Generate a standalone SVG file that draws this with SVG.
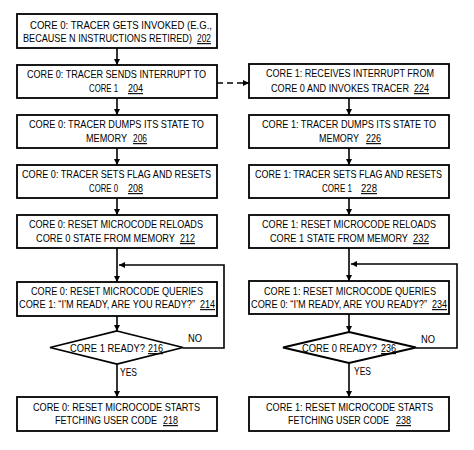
<svg xmlns="http://www.w3.org/2000/svg" width="474" height="450" viewBox="0 0 474 450">
<defs>
<marker id="ah" viewBox="0 0 10 10" refX="10" refY="5" markerWidth="6" markerHeight="6" markerUnits="userSpaceOnUse" orient="auto">
<path d="M0,0 L10,5 L0,10 z" fill="#000"/>
</marker>
<style>
.box{fill:#fff;stroke:#000;stroke-width:1.8}
.dia{fill:#fff;stroke:#000;stroke-width:1.8}
.t{font-family:"Liberation Sans",Arial,sans-serif;font-size:11px;fill:#000}
.u{text-decoration:underline}
.c{fill:none;stroke:#000;stroke-width:1.6}
.d{fill:none;stroke:#000;stroke-width:1.6;stroke-dasharray:6,4}
</style>
</defs>
<rect width="474" height="450" fill="#fff"/>
<g id="connectors">
<line class="c" x1="117" y1="48" x2="117" y2="65" marker-end="url(#ah)"/>
<line class="c" x1="117" y1="98" x2="117" y2="115" marker-end="url(#ah)"/>
<line class="c" x1="117" y1="148" x2="117" y2="165" marker-end="url(#ah)"/>
<line class="c" x1="117" y1="198" x2="117" y2="215" marker-end="url(#ah)"/>
<line class="c" x1="117" y1="248" x2="117" y2="282" marker-end="url(#ah)"/>
<line class="c" x1="117" y1="316" x2="117" y2="331" marker-end="url(#ah)"/>
<line class="c" x1="117" y1="364" x2="117" y2="397" marker-end="url(#ah)"/>
<polyline class="c" points="183,348 224,348 224,265 119,265" marker-end="url(#ah)"/>
<line class="d" x1="217" y1="83" x2="249" y2="83" marker-end="url(#ah)"/>
<line class="c" x1="349" y1="98" x2="349" y2="115" marker-end="url(#ah)"/>
<line class="c" x1="349" y1="148" x2="349" y2="165" marker-end="url(#ah)"/>
<line class="c" x1="349" y1="198" x2="349" y2="215" marker-end="url(#ah)"/>
<line class="c" x1="349" y1="248" x2="349" y2="281" marker-end="url(#ah)"/>
<line class="c" x1="349" y1="314" x2="349" y2="332" marker-end="url(#ah)"/>
<line class="c" x1="349" y1="363" x2="349" y2="397" marker-end="url(#ah)"/>
<polyline class="c" points="416,348 457,348 457,264 351,264" marker-end="url(#ah)"/>
<g transform="scale(0.82,1)">
<text class="t" x="229.27" y="342" textLength="17.07" lengthAdjust="spacingAndGlyphs">NO</text>
<text class="t" x="146.34" y="376" textLength="20.73" lengthAdjust="spacingAndGlyphs">YES</text>
<text class="t" x="513.41" y="343" textLength="17.07" lengthAdjust="spacingAndGlyphs">NO</text>
<text class="t" x="431.71" y="375" textLength="20.73" lengthAdjust="spacingAndGlyphs">YES</text>
</g>
</g>
<g id="n202">
<rect class="box" x="17" y="14" width="200" height="34"/>
<g transform="scale(0.82,1)">
<text class="t" x="36.59" y="29" textLength="221.95" lengthAdjust="spacingAndGlyphs">CORE 0: TRACER GETS INVOKED (E.G.,</text>
<text class="t" x="28.05" y="42" textLength="206.1" lengthAdjust="spacingAndGlyphs">BECAUSE N INSTRUCTIONS RETIRED)</text>
<text class="t u" x="240.24" y="42" textLength="17.07" lengthAdjust="spacingAndGlyphs">202</text>
</g>
</g>
<g id="n204">
<rect class="box" x="17" y="65" width="200" height="33"/>
<g transform="scale(0.82,1)">
<text class="t" x="32.93" y="78" textLength="218.29" lengthAdjust="spacingAndGlyphs">CORE 0: TRACER SENDS INTERRUPT TO</text>
<text class="t" x="108.54" y="92" textLength="35.37" lengthAdjust="spacingAndGlyphs">CORE 1</text>
<text class="t u" x="156.1" y="92" textLength="18.29" lengthAdjust="spacingAndGlyphs">204</text>
</g>
</g>
<g id="n206">
<rect class="box" x="17" y="115" width="200" height="33"/>
<g transform="scale(0.82,1)">
<text class="t" x="35.37" y="128" textLength="213.41" lengthAdjust="spacingAndGlyphs">CORE 0: TRACER DUMPS ITS STATE TO</text>
<text class="t" x="104.88" y="142" textLength="50" lengthAdjust="spacingAndGlyphs">MEMORY</text>
<text class="t u" x="162.2" y="142" textLength="17.07" lengthAdjust="spacingAndGlyphs">206</text>
</g>
</g>
<g id="n208">
<rect class="box" x="17" y="165" width="200" height="33"/>
<g transform="scale(0.82,1)">
<text class="t" x="26.83" y="178" textLength="230.49" lengthAdjust="spacingAndGlyphs">CORE 0: TRACER SETS FLAG AND RESETS</text>
<text class="t" x="108.54" y="192" textLength="35.37" lengthAdjust="spacingAndGlyphs">CORE 0</text>
<text class="t u" x="156.1" y="192" textLength="18.29" lengthAdjust="spacingAndGlyphs">208</text>
</g>
</g>
<g id="n212">
<rect class="box" x="17" y="215" width="200" height="33"/>
<g transform="scale(0.82,1)">
<text class="t" x="35.37" y="228" textLength="212.2" lengthAdjust="spacingAndGlyphs">CORE 0: RESET MICROCODE RELOADS</text>
<text class="t" x="43.9" y="242" textLength="169.51" lengthAdjust="spacingAndGlyphs">CORE 0 STATE FROM MEMORY</text>
<text class="t u" x="219.51" y="242" textLength="18.29" lengthAdjust="spacingAndGlyphs">212</text>
</g>
</g>
<g id="n214">
<rect class="box" x="17" y="282" width="200" height="34"/>
<g transform="scale(0.82,1)">
<text class="t" x="37.8" y="295" textLength="209.76" lengthAdjust="spacingAndGlyphs">CORE 0: RESET MICROCODE QUERIES</text>
<text class="t" x="23.17" y="308" textLength="214.63" lengthAdjust="spacingAndGlyphs">CORE 1: “I’M READY, ARE YOU READY?”</text>
<text class="t u" x="243.9" y="308" textLength="18.29" lengthAdjust="spacingAndGlyphs">214</text>
</g>
</g>
<g id="n216">
<polygon class="dia" points="117,331 183,347.5 117,364 50,347.5"/>
<g transform="scale(0.82,1)">
<text class="t" x="85.37" y="352" textLength="91.46" lengthAdjust="spacingAndGlyphs">CORE 1 READY?</text>
<text class="t u" x="180.49" y="352" textLength="18.29" lengthAdjust="spacingAndGlyphs">216</text>
</g>
</g>
<g id="n218">
<rect class="box" x="17" y="397" width="200" height="34"/>
<g transform="scale(0.82,1)">
<text class="t" x="40.24" y="411" textLength="203.66" lengthAdjust="spacingAndGlyphs">CORE 0: RESET MICROCODE STARTS</text>
<text class="t" x="67.07" y="424" textLength="124.39" lengthAdjust="spacingAndGlyphs">FETCHING USER CODE</text>
<text class="t u" x="198.78" y="424" textLength="18.29" lengthAdjust="spacingAndGlyphs">218</text>
</g>
</g>
<g id="n224">
<rect class="box" x="249" y="64" width="200" height="34"/>
<g transform="scale(0.82,1)">
<text class="t" x="324.39" y="77" textLength="204.88" lengthAdjust="spacingAndGlyphs">CORE 1: RECEIVES INTERRUPT FROM</text>
<text class="t" x="330.49" y="92" textLength="168.29" lengthAdjust="spacingAndGlyphs">CORE 0 AND INVOKES TRACER</text>
<text class="t u" x="504.88" y="92" textLength="18.29" lengthAdjust="spacingAndGlyphs">224</text>
</g>
</g>
<g id="n226">
<rect class="box" x="249" y="115" width="200" height="33"/>
<g transform="scale(0.82,1)">
<text class="t" x="319.51" y="128" textLength="212.2" lengthAdjust="spacingAndGlyphs">CORE 1: TRACER DUMPS ITS STATE TO</text>
<text class="t" x="389.02" y="142" textLength="48.78" lengthAdjust="spacingAndGlyphs">MEMORY</text>
<text class="t u" x="446.34" y="142" textLength="18.29" lengthAdjust="spacingAndGlyphs">226</text>
</g>
</g>
<g id="n228">
<rect class="box" x="249" y="165" width="200" height="33"/>
<g transform="scale(0.82,1)">
<text class="t" x="310.98" y="178" textLength="228.05" lengthAdjust="spacingAndGlyphs">CORE 1: TRACER SETS FLAG AND RESETS</text>
<text class="t" x="392.68" y="192" textLength="36.59" lengthAdjust="spacingAndGlyphs">CORE 1</text>
<text class="t u" x="440.24" y="192" textLength="19.51" lengthAdjust="spacingAndGlyphs">228</text>
</g>
</g>
<g id="n232">
<rect class="box" x="249" y="215" width="200" height="33"/>
<g transform="scale(0.82,1)">
<text class="t" x="319.51" y="228" textLength="212.2" lengthAdjust="spacingAndGlyphs">CORE 1: RESET MICROCODE RELOADS</text>
<text class="t" x="329.27" y="242" textLength="168.29" lengthAdjust="spacingAndGlyphs">CORE 1 STATE FROM MEMORY</text>
<text class="t u" x="503.66" y="242" textLength="19.51" lengthAdjust="spacingAndGlyphs">232</text>
</g>
</g>
<g id="n234">
<rect class="box" x="249" y="281" width="200" height="33"/>
<g transform="scale(0.82,1)">
<text class="t" x="321.95" y="295" textLength="209.76" lengthAdjust="spacingAndGlyphs">CORE 1: RESET MICROCODE QUERIES</text>
<text class="t" x="306.1" y="308" textLength="214.63" lengthAdjust="spacingAndGlyphs">CORE 0: “I’M READY, ARE YOU READY?”</text>
<text class="t u" x="526.83" y="308" textLength="18.29" lengthAdjust="spacingAndGlyphs">234</text>
</g>
</g>
<g id="n236">
<polygon class="dia" points="349,332 416,347.5 349,363 283,347.5"/>
<g transform="scale(0.82,1)">
<text class="t" x="368.29" y="352" textLength="91.46" lengthAdjust="spacingAndGlyphs">CORE 0 READY?</text>
<text class="t u" x="464.63" y="352" textLength="18.29" lengthAdjust="spacingAndGlyphs">236</text>
</g>
</g>
<g id="n238">
<rect class="box" x="249" y="397" width="200" height="34"/>
<g transform="scale(0.82,1)">
<text class="t" x="324.39" y="411" textLength="203.66" lengthAdjust="spacingAndGlyphs">CORE 1: RESET MICROCODE STARTS</text>
<text class="t" x="351.22" y="424" textLength="123.17" lengthAdjust="spacingAndGlyphs">FETCHING USER CODE</text>
<text class="t u" x="482.93" y="424" textLength="18.29" lengthAdjust="spacingAndGlyphs">238</text>
</g>
</g>
</svg>
